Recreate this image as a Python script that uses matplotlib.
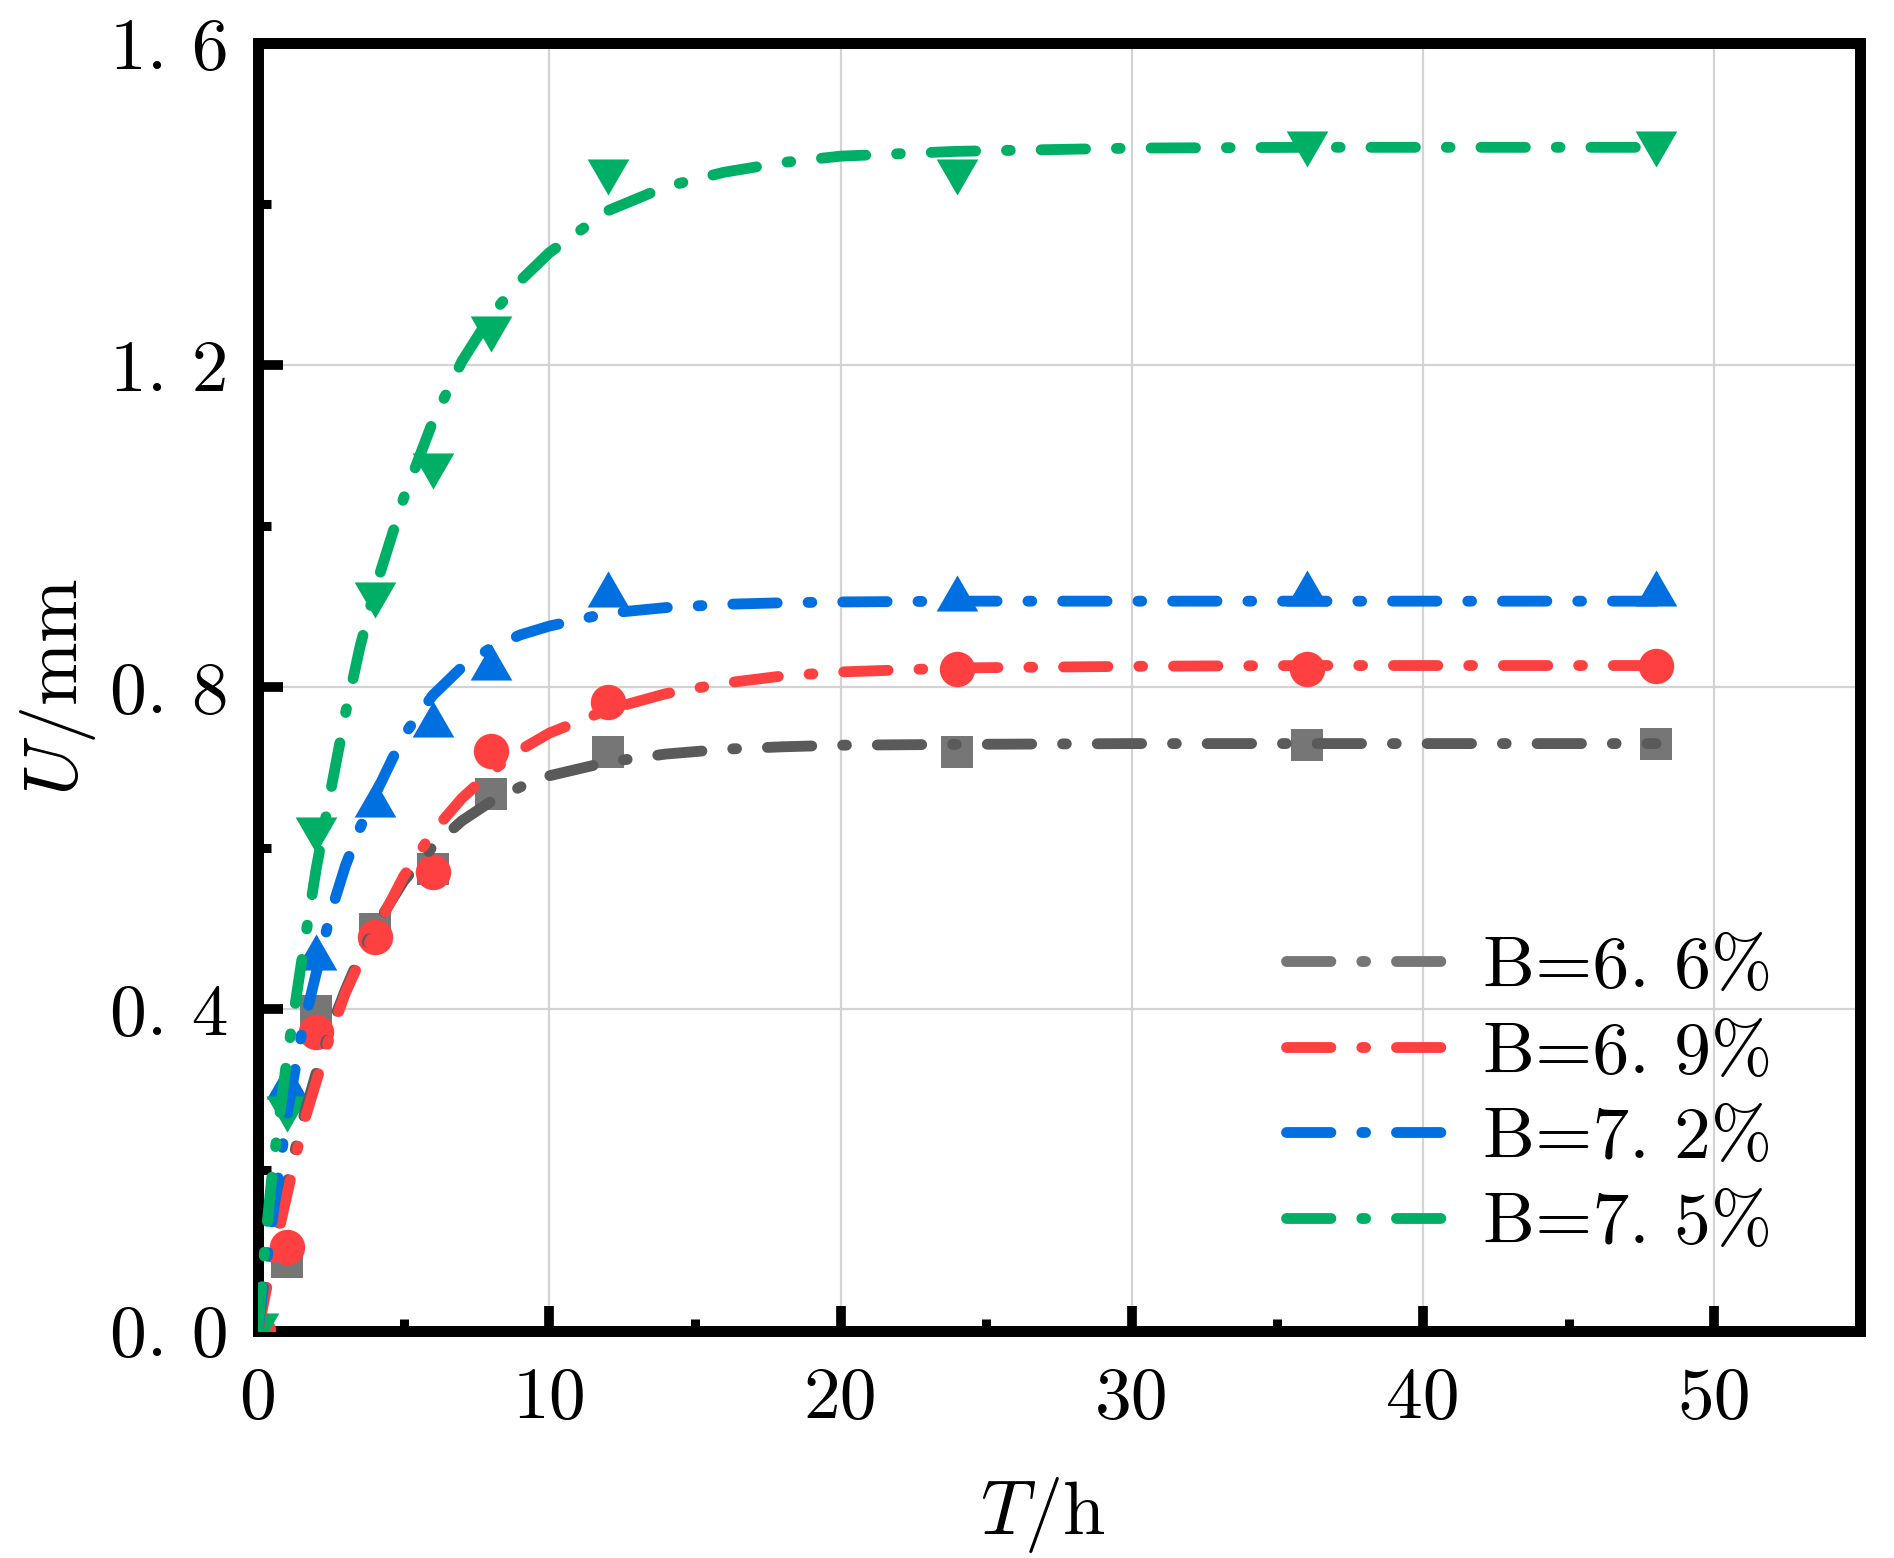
import matplotlib
matplotlib.use("Agg")
import matplotlib.pyplot as plt
from matplotlib.lines import Line2D
from matplotlib.path import Path
from matplotlib.ticker import MultipleLocator

# ---------------- data ----------------
T_obs = [0, 1, 2, 4, 6, 8, 12, 24, 36, 48]
gray_obs = [0, 0.086, 0.398, 0.500, 0.574, 0.667, 0.720, 0.720, 0.728, 0.730]
red_obs = [0, 0.104, 0.372, 0.490, 0.570, 0.721, 0.782, 0.823, 0.823, 0.826]
blue_obs = [0, 0.311, 0.471, 0.661, 0.761, 0.831, 0.922, 0.917, 0.923, 0.923]
green_obs = [0, 0.270, 0.616, 0.908, 1.069, 1.239, 1.434, 1.434, 1.469, 1.469]

T_fit = [0, 0.25, 0.5, 1, 1.5, 2, 2.5, 3, 3.5, 4, 5, 6, 7, 8, 9, 10,
         12, 14, 16, 18, 20, 24, 30, 36, 42, 48]
gray_fit = [0, 0.051, 0.098, 0.184, 0.258, 0.321, 0.377, 0.424, 0.466, 0.501,
            0.559, 0.602, 0.634, 0.658, 0.676, 0.690, 0.707, 0.717, 0.723,
            0.726, 0.728, 0.729, 0.730, 0.730, 0.730, 0.730]
red_fit = [0, 0.045, 0.090, 0.170, 0.250, 0.310, 0.370, 0.420, 0.460, 0.495,
           0.565, 0.620, 0.662, 0.695, 0.722, 0.743, 0.772, 0.792, 0.805,
           0.814, 0.819, 0.824, 0.826, 0.827, 0.827, 0.827]
blue_fit = [0, 0.075, 0.140, 0.270, 0.370, 0.445, 0.520, 0.578, 0.625, 0.665,
            0.740, 0.790, 0.825, 0.849, 0.865, 0.876, 0.892, 0.899, 0.903,
            0.905, 0.906, 0.907, 0.907, 0.907, 0.907, 0.907]
green_fit = [0, 0.110, 0.200, 0.340, 0.460, 0.575, 0.672, 0.767, 0.850, 0.920,
             1.035, 1.130, 1.205, 1.262, 1.305, 1.340, 1.392, 1.422, 1.440,
             1.452, 1.460, 1.466, 1.470, 1.471, 1.471, 1.471]

labels = ["B=6. 6%", "B=6. 9%", "B=7. 2%", "B=7. 5%"]
x_ticks = [0, 10, 20, 30, 40, 50]
x_ticklabels = ["0", "10", "20", "30", "40", "50"]
y_ticks = [0.0, 0.4, 0.8, 1.2, 1.6]
y_ticklabels = ["0. 0", "0. 4", "0. 8", "1. 2", "1. 6"]

# ---------------- style ----------------
plt.rcParams['font.family'] = ['cmr10', 'DejaVu Serif']
plt.rcParams['mathtext.fontset'] = 'cm'
plt.rcParams['axes.unicode_minus'] = False

DPI = 100
FS = 53  # pt
LW = 7.8
DASH = (0, (4.1, 2.85, 0.35, 2.85))

marker_colors = ["#767676", "#FF4040", "#0070E0", "#00AF66"]
line_colors = ["#5a5a5a", "#FF4040", "#0070E0", "#00AF66"]

tri_up = Path([(-1, -0.866), (1, -0.866), (0, 0.866), (-1, -0.866)],
              [Path.MOVETO, Path.LINETO, Path.LINETO, Path.CLOSEPOLY])
tri_down = Path([(-1, 0.866), (1, 0.866), (0, -0.866), (-1, 0.866)],
                [Path.MOVETO, Path.LINETO, Path.LINETO, Path.CLOSEPOLY])
markers = ["s", "o", tri_up, tri_down]
msizes = [23, 25.5, 30, 30]

fig = plt.figure(figsize=(18.94, 15.58), dpi=DPI)
ax = fig.add_axes([0.13622, 0.14570, 0.84583, 0.82638])

obs = [gray_obs, red_obs, blue_obs, green_obs]
fits = [gray_fit, red_fit, blue_fit, green_fit]

for i in range(4):
    ax.plot(T_obs, obs[i], linestyle="none", marker=markers[i],
            markersize=msizes[i], color=marker_colors[i],
            markeredgewidth=0, zorder=3 + i * 0.1)
for i in range(4):
    ax.plot(T_fit, fits[i], color=line_colors[i], lw=LW, linestyle=DASH,
            dash_capstyle="round", solid_capstyle="round", zorder=4 + i * 0.1)

ax.set_xlim(0, 55)
ax.set_ylim(0, 1.6)
ax.set_xticks(x_ticks)
ax.set_xticklabels(x_ticklabels)
ax.set_yticks(y_ticks)
ax.set_yticklabels(y_ticklabels)
ax.xaxis.set_minor_locator(MultipleLocator(5))
ax.yaxis.set_minor_locator(MultipleLocator(0.2))

ax.grid(True, which="major", color="#d3d3d3", lw=1.6, zorder=0)
ax.set_axisbelow(True)

for s in ax.spines.values():
    s.set_linewidth(7.9)
    s.set_color("black")

ax.tick_params(which="major", direction="in", length=18, width=7.0,
               labelsize=FS, pad=21, top=False, right=False, color="black")
ax.tick_params(which="minor", direction="in", length=9, width=6.5,
               top=False, right=False)
ax.tick_params(axis="x", which="major", pad=26)

ax.set_xlabel(r"$T$/h", fontsize=FS + 2)
ax.set_ylabel(r"$U$/mm", fontsize=FS + 2)
ax.xaxis.set_label_coords(0.49, -0.112)
ax.yaxis.set_label_coords(-0.100, 0.5)

handles = [Line2D([0], [0], color=marker_colors[i], lw=LW, linestyle=DASH,
                  dash_capstyle="round") for i in range(4)]
fs_px = FS * DPI / 72.0
leg = ax.legend(handles, labels, loc="center left",
                bbox_to_anchor=(1285.5 / 1894.0, 1 - 1096.5 / 1558.0),
                bbox_transform=fig.transFigure, frameon=False, fontsize=FS,
                handlelength=157.0 / fs_px, handletextpad=0.55,
                labelspacing=0.27, borderpad=0.0, borderaxespad=0.0)

fig.savefig("out.png", dpi=DPI)
